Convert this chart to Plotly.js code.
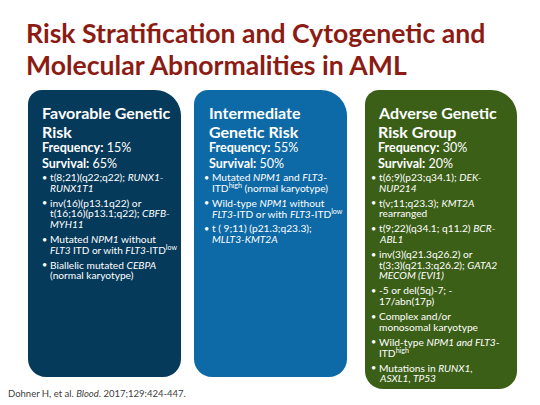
<!DOCTYPE html>
<html>
<head>
<meta charset="utf-8">
<script src="https://cdn.plot.ly/plotly-3.0.1.min.js"></script>
<style>
html,body{margin:0;padding:0;background:#fff;}
#chart{width:540px;height:405px;}
</style>
</head>
<body>
<div id="chart"></div>
<script>
// ---- content ----
const titleLines = ["Risk Stratification and Cytogenetic and", "Molecular Abnormalities in AML"];
const groupNames = [["Favorable Genetic", "Risk"], ["Intermediate", "Genetic Risk"], ["Adverse Genetic", "Risk Group"]];
const frequencyPct = [15, 55, 30];
const survivalPct = [65, 50, 20];
const favorableItems = [
  ["t(8;21)(q22;q22); <i>RUNX1-</i>", "<i>RUNX1T1</i>"],
  ["inv(16)(p13.1q22) or", "t(16;16)(p13.1;q22); <i>CBFB-</i>", "<i>MYH11</i>"],
  ["Mutated <i>NPM1</i> without", "<i>FLT3</i> ITD or with <i>FLT3</i>-ITD<sup>low</sup>"],
  ["Biallelic mutated <i>CEBPA</i>", "(normal karyotype)"]
];
const intermediateItems = [
  ["Mutated <i>NPM1</i> and <i>FLT3</i>-", "ITD<sup>high</sup> (normal karyotype)"],
  ["Wild-type <i>NPM1</i> without", "<i>FLT3</i>-ITD or with <i>FLT3</i>-ITD<sup>low</sup>"],
  ["t ( 9;11) (p21.3;q23.3);", "<i>MLLT3-KMT2A</i>"]
];
const adverseItems = [
  ["t(6;9)(p23;q34.1); <i>DEK-</i>", "<i>NUP214</i>"],
  ["t(v;11;q23.3); <i>KMT2A</i>", "rearranged"],
  ["t(9;22)(q34.1; q11.2) <i>BCR-</i>", "<i>ABL1</i>"],
  ["inv(3)(q21.3q26.2) or", "t(3;3)(q21.3;q26.2); <i>GATA2</i>", "<i>MECOM (EVI1)</i>"],
  ["-5 or del(5q)-7; -", "17/abn(17p)"],
  ["Complex and/or", "monosomal karyotype"],
  ["Wild-type <i>NPM1 and FLT3</i>-", "ITD<sup>high</sup>"],
  ["Mutations in <i>RUNX1,</i>", "<i>ASXL1, TP53</i>"]
];
const citation = "Dohner H, et al. <i>Blood</i>. 2017;129:424-447.";

// ---- styles / geometry ----
const FONT = "Lato, 'Open Sans', sans-serif";
const boxColors = ["#063a5b", "#0e6aa6", "#3c5f18"];
const boxes = [
  {x0: 28, x1: 181, y0: 90, y1: 377, hx: 41, bx: 41, tx: 49},
  {x0: 194, x1: 347, y0: 90, y1: 377, hx: 208, bx: 203, tx: 211},
  {x0: 365, x1: 517, y0: 90, y1: 389, hx: 377, bx: 370, tx: 378}
];
const allItems = [favorableItems, intermediateItems, adverseItems];

function rr(x0, y0, x1, y1, tl, tr, br, bl) {
  const k = 0.5523;
  return `M ${x0 + tl} ${y0} L ${x1 - tr} ${y0} ` +
    `C ${x1 - tr + tr * k} ${y0} ${x1} ${y0 + tr - tr * k} ${x1} ${y0 + tr} ` +
    `L ${x1} ${y1 - br} ` +
    `C ${x1} ${y1 - br + br * k} ${x1 - br + br * k} ${y1} ${x1 - br} ${y1} ` +
    `L ${x0 + bl} ${y1} ` +
    `C ${x0 + bl - bl * k} ${y1} ${x0} ${y1 - bl + bl * k} ${x0} ${y1 - bl} ` +
    `L ${x0} ${y0 + tl} ` +
    `C ${x0} ${y0 + tl - tl * k} ${x0 + tl - tl * k} ${y0} ${x0 + tl} ${y0} Z`;
}

// measure a line with simple <i>/<sup> markup, to shrink lines that would overflow a box
const ctx = document.createElement("canvas").getContext("2d");
function measure(line, size) {
  let w = 0, italic = false, sup = false;
  line.split(/(<\/?i>|<\/?sup>)/).forEach(tok => {
    if (tok === "<i>") italic = true;
    else if (tok === "</i>") italic = false;
    else if (tok === "<sup>") sup = true;
    else if (tok === "</sup>") sup = false;
    else if (tok) {
      ctx.font = (italic ? "italic " : "") + (sup ? size * 0.7 : size) + "px Lato";
      w += ctx.measureText(tok).width;
    }
  });
  return w;
}

const shapes = boxes.map((b, i) => ({
  type: "path", xref: "x", yref: "y",
  path: rr(b.x0, b.y0, b.x1, b.y1, 14, 26, 18, 18),
  fillcolor: boxColors[i], line: {width: 0}, layer: "below"
}));

const annotations = [];
function txt(x, y, text, size, color) {
  annotations.push({
    x: x, y: y, xref: "x", yref: "y", text: text, showarrow: false,
    xanchor: "left", yanchor: "middle", align: "left", borderpad: 0,
    font: {family: FONT, size: size, color: color}
  });
}

// title
txt(25, 33, "<b>" + titleLines[0] + "</b>", 26.6, "#8c1c13");
txt(25, 65, "<b>" + titleLines[1] + "</b>", 26.6, "#8c1c13");

// boxes content
const baseSize = 10.2, lineH = 10.6, bulletGap = 15.1;
boxes.forEach((b, i) => {
  txt(b.hx, 112, "<b>" + groupNames[i][0] + "</b>", 16, "#ffffff");
  txt(b.hx, 131, "<b>" + groupNames[i][1] + "</b>", 16, "#ffffff");
  txt(b.hx, 147, "<b>Frequency:</b> " + frequencyPct[i] + "%", 12.5, "#ffffff");
  txt(b.hx, 163, "<b>Survival:</b> " + survivalPct[i] + "%", 12.5, "#ffffff");
  const maxW = b.x1 - b.tx - 4;
  let y = 177;
  allItems[i].forEach((item, j) => {
    if (j > 0) y += bulletGap - lineH;
    txt(b.bx, y, "•", 9, "#ffffff");
    item.forEach((line, k) => {
      if (k > 0) y += lineH;
      const w = measure(line, baseSize);
      const size = w > maxW ? Math.floor(baseSize * maxW / w * 10) / 10 : baseSize;
      txt(b.tx, y, line, size, "#ffffff");
    });
    y += lineH;
  });
});

// citation
txt(7, 393, citation, 9.5, "#404040");

const layout = {
  width: 540, height: 405,
  margin: {l: 0, r: 0, t: 0, b: 0},
  paper_bgcolor: "#ffffff", plot_bgcolor: "#ffffff",
  xaxis: {range: [0, 540], visible: false, fixedrange: true},
  yaxis: {range: [405, 0], visible: false, fixedrange: true},
  showlegend: false,
  shapes: shapes,
  annotations: annotations
};

Plotly.newPlot("chart", [], layout, {staticPlot: true, displayModeBar: false});
</script>
</body>
</html>
